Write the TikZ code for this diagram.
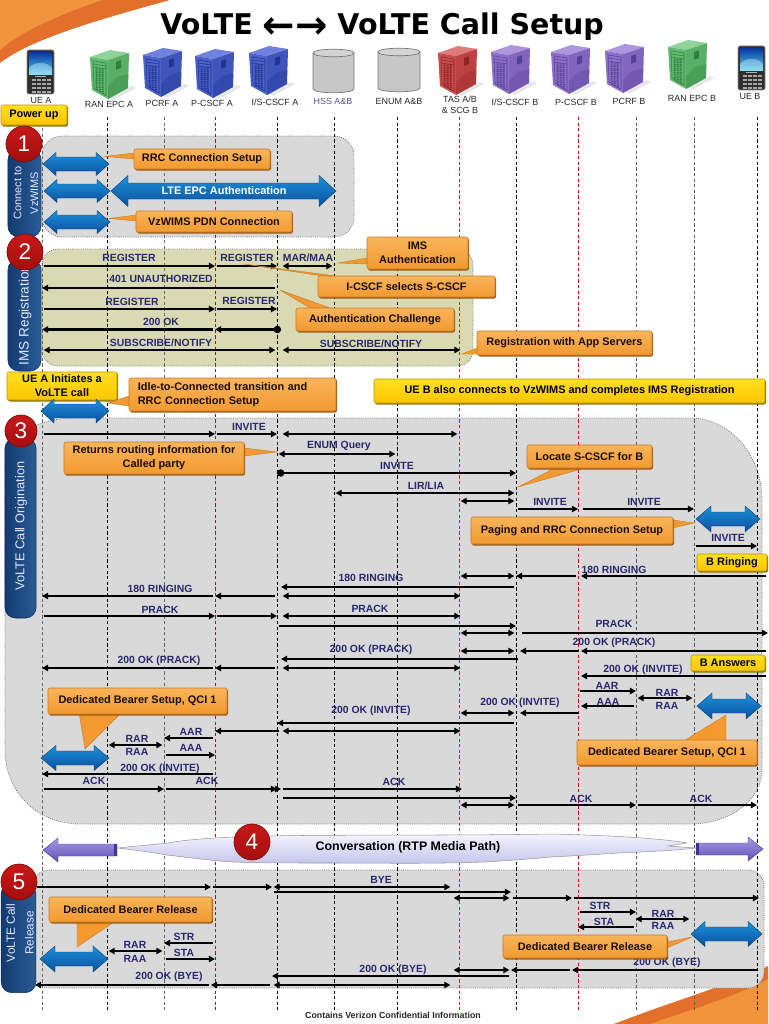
\documentclass[tikz,border=0pt]{standalone}
\usepackage{fontspec}
\setmainfont{Liberation Sans}
\newfontfamily\ttlfont{DejaVu Sans}
\usetikzlibrary{arrows.meta,calc}
\definecolor{dkorange}{HTML}{E2702C}
\definecolor{ltorange}{HTML}{F1953C}
\definecolor{msgblue}{HTML}{27276F}
\definecolor{panelgray}{HTML}{D9D9D9}
\definecolor{panelolive}{HTML}{D9DAB3}
\definecolor{oedge}{HTML}{C77B25}
\definecolor{otop}{HTML}{F9B45A}
\definecolor{obot}{HTML}{F29A30}
\definecolor{oshadow}{HTML}{9A5A16}
\definecolor{yedge}{HTML}{B89400}
\definecolor{ytop}{HTML}{FFDF20}
\definecolor{ybot}{HTML}{FDC500}
\definecolor{yshadow}{HTML}{8F7400}
\definecolor{pillD}{HTML}{123B70}
\definecolor{pillL}{HTML}{2A5C96}
\definecolor{pillE}{HTML}{0E2C54}
\definecolor{redT}{HTML}{C81818}
\definecolor{redB}{HTML}{A50E0E}
\definecolor{redE}{HTML}{7A0A0A}
\definecolor{barT}{HTML}{1C92DA}
\definecolor{barB}{HTML}{0B4F9E}
\definecolor{barE}{HTML}{0A4078}
\definecolor{parT}{HTML}{A89AE8}
\definecolor{parB}{HTML}{5E50B4}
\definecolor{parE}{HTML}{4A4098}
\definecolor{parD}{HTML}{3E3490}
\definecolor{cldT}{HTML}{F4F4FF}
\definecolor{cldB}{HTML}{C4C4EC}
\definecolor{scrT}{HTML}{0B3CA0}
\definecolor{scrB}{HTML}{4FD4F2}
\definecolor{gt}{HTML}{8FD39A}\definecolor{gl}{HTML}{62B96F}\definecolor{gr}{HTML}{57B066}\definecolor{gd}{HTML}{2F7F40}
\definecolor{bt}{HTML}{6F83DE}\definecolor{bl}{HTML}{4A61C6}\definecolor{br}{HTML}{3F55BC}\definecolor{bd}{HTML}{223590}
\definecolor{rt}{HTML}{DE7A7A}\definecolor{rl}{HTML}{C84C4C}\definecolor{rr}{HTML}{BE4242}\definecolor{rd}{HTML}{8C2626}
\definecolor{pt}{HTML}{AE96DE}\definecolor{pl}{HTML}{8D70C6}\definecolor{pr}{HTML}{8266BE}\definecolor{pd}{HTML}{55409A}
\newcounter{lblc}
\tikzset{
  m/.style={line width=1.05pt,shorten <=1.2pt,-{Stealth[length=4.6pt,width=4.8pt,inset=0pt]}},
  dbl/.style={{Stealth[length=4.6pt,width=4.8pt,inset=0pt]}-{Stealth[length=4.6pt,width=4.8pt,inset=0pt]},shorten >=1.2pt},
  tk/.style={line width=1.7pt},
  dot/.style={{Circle[length=5.5pt]}-{Stealth[length=4.6pt,width=4.8pt,inset=0pt]}},
  ll/.style={line width=.75pt,dash pattern=on 2.4pt off 1.8pt},
  panel/.style={fill=#1,draw=black!55,line width=.6pt,densely dotted},
  lbl/.style={text=msgblue,font=\fontsize{7.8}{8}\selectfont\bfseries,inner sep=0pt},
  nm/.style={text=black!85,font=\fontsize{6.7}{8}\selectfont,inner sep=0pt,align=center},
  ocall/.style={rounded corners=1.5pt,draw=oedge,line width=.4pt,top color=otop,bottom color=obot,
    inner sep=0pt,align=center,text=black!90!orange,font=\fontsize{8.2}{10.4}\selectfont\bfseries},
  ycall/.style={rounded corners=1.5pt,draw=yedge,line width=.4pt,top color=ytop,bottom color=ybot,
    inner sep=0pt,align=center,text=black,font=\fontsize{8.2}{10.4}\selectfont\bfseries},
  ptr/.style={fill=obot,draw=oedge,line width=.3pt},
  pill/.style={rounded corners=8pt,draw=pillE,line width=.4pt,left color=pillD,right color=pillL,inner sep=0pt},
  pilltxt/.style={rotate=90,text=white!90!blue,inner sep=0pt,align=center},
  redc/.style={circle,inner sep=0pt,draw=redE,line width=.5pt,top color=redT,bottom color=redB,text=white,font=\fontsize{17}{17}\selectfont},
  barrow/.style={top color=barT,bottom color=barB,draw=barE,line width=.3pt},
  parrow/.style={top color=parT,bottom color=parB,draw=parE,line width=.3pt},
}
\newcommand{\msg}[4][]{\draw[m,#1] (#2 |- 0,#4) -- (#3 |- 0,#4);}
\newcommand{\mlab}[3]{\stepcounter{lblc}\node[lbl] (lab\arabic{lblc}) at (#1,#2) {#3};}
\newcommand{\ocallbox}[7][]{%
  \fill[oshadow,rounded corners=1.5pt] ({#3+1},{#4+1}) rectangle ({#5+1},{#6+1.5});
  \node[ocall,minimum width={(#5-#3)*0.75pt},minimum height={(#6-#4)*0.75pt},#1] (#2) at ({(#3+#5)/2},{(#4+#6)/2}) {#7};}
\newcommand{\ycallbox}[7][]{%
  \fill[yshadow,rounded corners=1.5pt] ({#3+1},{#4+1}) rectangle ({#5+1},{#6+1.5});
  \node[ycall,minimum width={(#5-#3)*0.75pt},minimum height={(#6-#4)*0.75pt},#1] (#2) at ({(#3+#5)/2},{(#4+#6)/2}) {#7};}
% blue double arrow: x1 x2 y halfhead halfshaft headlen
\newcommand{\bigarrow}[6]{%
  \draw[barrow] (#1,#3) -- ({#1+#6},{#3-#4}) -- ({#1+#6},{#3-#5}) -- ({#2-#6},{#3-#5}) -- ({#2-#6},{#3-#4}) -- (#2,#3)
   -- ({#2-#6},{#3+#4}) -- ({#2-#6},{#3+#5}) -- ({#1+#6},{#3+#5}) -- ({#1+#6},{#3+#4}) -- cycle;}
\newcommand{\server}[6]{% x y top left right dark
  \begin{scope}[shift={(#1,#2)}]
    \fill[black!18,opacity=.5] (20,47) -- (42,36) -- (46,38) -- (24,50) -- cycle;
    \fill[#3] (0,7) -- (20,0) -- (39,3) -- (18,10) -- cycle;
    \fill[#4] (0,7) -- (18,10) -- (18,49) -- (2,40) -- cycle;
    \fill[#5] (18,10) -- (39,3) -- (38,38) -- (18,49) -- cycle;
    \fill[#6,opacity=.35] (18,49) -- (18,36) -- (27,27) -- (38.4,24) -- (38,38) -- cycle;
    \fill[#6] (26,12) -- (31,10.3) -- (31,18) -- (26,19.7) -- cycle;
    \draw[#6,line width=.4pt] (3,11) -- (16,13) -- (16,45.5) -- (4,38) -- cycle;
    \draw[#6,line width=.4pt] (3,14) -- (16,16) (3,17) -- (16,19);
    \foreach \q in {6.5,9.5,12.5} {\draw[#6,line width=1.5pt,dash pattern=on .9pt off .5pt] (\q,18.5) -- ({\q+.3},{37+\q*.6});}
  \end{scope}}
\newcommand{\phone}[2]{%
  \begin{scope}[shift={(#1,#2)}]
    \fill[black!82,rounded corners=1.5pt] (0,0) rectangle (27,44);
    \draw[black!45,line width=.4pt,rounded corners=1.5pt] (0,0) rectangle (27,44);
    \shade[top color=scrT,bottom color=scrB] (2,3) rectangle (25,25);
    \fill[white,opacity=.35] (2,18) .. controls (8,11) and (19,11) .. (25,18) -- (25,25) -- (2,25) -- cycle;
    \foreach \r in {29,33,37,41} {\foreach \c in {5,10,15,20} {\fill[black!35] (\c,\r) rectangle ({\c+3.5},{\r+1.6});}}
    \fill[black!30] (8,26) rectangle (19,27.3);
  \end{scope}}
\newcommand{\cyl}[4]{% x1 x2 ytop ybottom
  \draw[fill=black!22,draw=black!55,line width=.5pt] (#1,{#3+4}) -- (#1,{#4-4}) .. controls (#1,{#4+1}) and (#2,{#4+1}) .. (#2,{#4-4}) -- (#2,{#3+4});
  \draw[fill=black!17,draw=black!55,line width=.5pt] (#1,{#3+4}) .. controls (#1,{#3-1}) and (#2,{#3-1}) .. (#2,{#3+4}) .. controls (#2,{#3+9}) and (#1,{#3+9}) .. (#1,{#3+4}) -- cycle;}
\begin{document}
\begin{tikzpicture}[x=.75pt,y=-.75pt]
\useasboundingbox (0,0) rectangle (768,1024);
\fill[white] (0,0) rectangle (768,1024);
% swooshes
\fill[dkorange] (0,0) -- (170,0) .. controls (90,22) and (30,40) .. (0,63) -- cycle;
\fill[ltorange] (0,0) -- (103,0) .. controls (60,14) and (20,32) .. (0,50) -- cycle;
\fill[dkorange] (768,1024) -- (614,1024) .. controls (670,1002) and (730,985) .. (768,966) -- cycle;
\fill[ltorange] (768,1024) -- (650,1024) .. controls (690,1010) and (740,995) .. (768,979) -- cycle;
% title
\node[inner sep=0pt,anchor=base west,font=\ttlfont\bfseries\fontsize{21.4}{24}\selectfont] (title) at (160,35) {VoLTE {\fontsize{29}{24}\selectfont\raisebox{-2.3pt}{←→}} VoLTE Call Setup};
% panels
\path[panel=panelgray,rounded corners=15pt] (42,136) rectangle (354,237);
\path[panel=panelolive,rounded corners=12pt] (42,249) rectangle (473,366);
\path[panel=panelgray] (5,460) .. controls (5,435) and (40,418) .. (75,418) -- (690,418) .. controls (730,418) and (762,455) .. (762,500) -- (762,770) .. controls (762,800) and (730,824) .. (690,824) -- (80,824) .. controls (35,824) and (5,790) .. (5,750) -- cycle;
\path[panel=panelgray,rounded corners=12pt] (33,870) -- (764,870) -- (764,988) -- (33,988) -- cycle;
% lifelines
\coordinate (ua) at (42,117);  \coordinate (ra) at (107,117); \coordinate (pc) at (164,117);
\coordinate (pa) at (215,117); \coordinate (ia) at (277,117); \coordinate (hs) at (334,117);
\coordinate (en) at (397,117); \coordinate (ta) at (459,117); \coordinate (ib) at (516,117);
\coordinate (pb) at (578,117); \coordinate (pr) at (636,117); \coordinate (rb) at (694,117);
\coordinate (ub) at (757,117);
\coordinate (iar) at (281,117); \coordinate (ibr) at (520,117); \coordinate (pbr) at (581,117);
\coordinate (edge) at (768,117); \coordinate (lft) at (35,117); \coordinate (tar) at (462,117);
\coordinate (pa5) at (211,117); \coordinate (ia5) at (272,117); \coordinate (ta5) at (452,117);
\coordinate (ib5) at (511,117); \coordinate (pb5) at (572,117); \coordinate (ub5) at (759,117);
\coordinate (rb5) at (691,117); \coordinate (pr5) at (634,117);
\foreach \n/\c in {ua/black!60,ra/black,pc/black!60,pa/red!75!black,ia/black,hs/black,en/black,ta/green!55!black,ib/black,pb/red!80!black,pr/black!65,rb/black!65,ub/black}
  {\draw[ll,\c] (\n) -- (\n |- 0,1010);}
% icons
\phone{27}{50} \phone{738}{46}
\server{90}{50}{gt}{gl}{gr}{gd}
\server{143}{48}{bt}{bl}{br}{bd}
\server{195}{49}{bt}{bl}{br}{bd}
\server{249}{46}{bt}{bl}{br}{bd}
\server{438}{46}{rt}{rl}{rr}{rd}
\server{491}{45}{pt}{pl}{pr}{pd}
\server{551}{45}{pt}{pl}{pr}{pd}
\server{605}{44}{pt}{pl}{pr}{pd}
\server{668}{40}{gt}{gl}{gr}{gd}
\cyl{313}{354}{49}{93} \cyl{378}{420}{48}{92}
\node[nm] (nua) at (41,100) {UE A};
\node[nm] (nra) at (109,104) {RAN EPC A};
\node[nm] (npc) at (162,103) {PCRF A};
\node[nm] (npa) at (212,103) {P-CSCF A};
\node[nm] (nia) at (275,102) {I/S-CSCF A};
\node[nm,text=msgblue!80] (nhs) at (333,101) {HSS A\&B};
\node[nm] (nen) at (399,101) {ENUM A\&B};
\node[nm] (nta) at (460,104.5) {TAS A/B\\\& SCG B};
\node[nm] (nib) at (515,102) {I/S-CSCF B};
\node[nm] (npb) at (576,102) {P-CSCF B};
\node[nm] (npr) at (629,101) {PCRF B};
\node[nm] (nrb) at (692,98) {RAN EPC B};
\node[nm] (nub) at (750,96) {UE B};
\ycallbox{pwr}{1}{105}{67}{125}{Power up}
% section 1
\bigarrow{43}{109}{164}{11.5}{7}{13}
\bigarrow{44}{110}{191}{11.5}{7}{13}
\bigarrow{44}{110}{222}{11.5}{7}{13}
\bigarrow{111}{336}{191}{15.5}{8}{17}
\node[inner sep=0pt,text=white,font=\fontsize{8.2}{10}\selectfont\bfseries] (lte) at (224,191) {LTE EPC Authentication};
\draw[ptr] (134,153) -- (105,156.5) -- (134,159) -- cycle;
\ocallbox{c1}{134}{149}{270}{169}{RRC Connection Setup}
\draw[ptr] (136,215) -- (109,218.5) -- (136,221) -- cycle;
\ocallbox{c2}{136}{211}{292}{232}{VzWIMS PDN Connection}
% section 2
\msg{ua}{pa}{266} \msg{pa}{ia}{266} \msg[dbl]{iar}{hs}{266}
\msg{ia}{ua}{288}
\msg{ua}{pa}{309} \msg{pa}{ia}{309}
\msg[dot,tk,shorten <=0pt]{iar}{pa}{329.5} \msg[tk]{pa}{ua}{329.5}
\msg[dbl]{ua}{ia}{350} \msg[dbl]{iar}{tar}{350}
\mlab{129}{258}{REGISTER} \mlab{247}{258}{REGISTER} \mlab{308}{258}{MAR/MAA}
\mlab{161}{279}{401 UNAUTHORIZED} \mlab{132}{302}{REGISTER} \mlab{249}{301}{REGISTER}
\mlab{161}{322}{200 OK} \mlab{161}{343}{SUBSCRIBE/NOTIFY} \mlab{371}{344}{SUBSCRIBE/NOTIFY}
\draw[ptr] (367,258) -- (338,263) -- (367,264) -- cycle;
\ocallbox{c3}{367}{237}{468}{269}{IMS\\Authentication}
\draw[ptr] (322,276) -- (244,264) -- (336,276) -- cycle;
\ocallbox{c4}{318}{276}{495}{297}{I-CSCF selects S-CSCF}
\draw[ptr] (310,308) -- (280,290) -- (330,308) -- cycle;
\ocallbox{c5}{296}{308}{454}{331}{Authentication Challenge}
\draw[ptr] (480,347) -- (462,354) -- (480,354) -- cycle;
\ocallbox{c6}{477}{331}{652}{355}{Registration with App Servers}
\ycallbox{y1}{7}{372}{117}{400}{UE A Initiates a\\VoLTE call}
\ycallbox{y2}{374}{379}{765}{403}{UE B also connects to VzWIMS and completes IMS Registration}
\bigarrow{41}{109}{411}{12}{7}{13}
\draw[ptr] (129,396) -- (108,403) -- (129,406) -- cycle;
\ocallbox[align=left,text width=155pt]{c7}{129}{378}{336}{411}{\hspace*{6.5pt}Idle-to-Connected transition and\\\hspace*{6.5pt}RRC Connection Setup}
% section 3
\msg{ua}{pa}{434} \msg{pa}{ia}{434} \msg[dbl]{iar}{ta}{434}
\msg[dbl]{ia}{en}{454}
\msg[dot,tk,shorten <=0pt]{ia}{ib}{473}
\msg[dbl,tk]{hs}{ib}{493}
\msg[dbl]{ta}{ib}{501}
\msg{ib}{pb}{509} \msg{pbr}{rb}{509}
\msg[tk]{rb}{ub}{546}
\msg[dbl]{ta}{ib}{576} \msg{pb}{ib}{576} \msg[tk]{edge}{pbr}{576}
\msg{ib}{iar}{587}
\msg[tk]{pa}{ua}{596} \msg[tk]{ia}{pa}{596} \msg[dbl,tk]{iar}{tar}{596}
\msg{ua}{pa}{616} \msg{pa}{ia}{616} \msg[dbl]{iar}{tar}{616}
\msg{ia}{ib}{626}
\msg[dbl]{ta}{ib}{633} \msg[tk]{ibr}{edge}{633}
\msg[dbl]{ta}{ib}{651} \msg{pbr}{ibr}{651} \msg{edge}{pbr}{651}
\msg{ibr}{iar}{659}
\msg{pa}{ua}{668} \msg{ia}{pa}{668} \msg[dbl]{iar}{tar}{668}
\msg[tk]{edge}{pbr}{676}
\msg[tk]{pb}{pr}{691}
\msg[dbl]{pr}{rb}{698}
\msg{pr}{pbr}{706}
\msg[dbl]{ta}{ib}{713} \msg{pbr}{ibr}{713}
\msg{ib}{ia}{723}
\msg[tk]{iar}{pa}{731} \msg[dbl]{iar}{tar}{731}
\msg{pa}{pc}{738}
\msg[dbl]{ra}{pc}{745}
\msg{pc}{pa}{755}
\msg{pa}{ua}{774}
\msg{ua}{pc}{789} \msg{pc}{ia}{789} \msg{ia}{iar}{789} \msg{iar}{tar}{789}
\msg{iar}{ib}{798}
\msg[dbl]{ta}{ib}{805} \msg{ib}{pr}{805} \msg{pr}{ub}{805}
\mlab{249}{427}{INVITE} \mlab{339}{446}{ENUM Query} \mlab{397}{466}{INVITE} \mlab{426}{486}{LIR/LIA}
\mlab{550}{502}{INVITE} \mlab{644}{502}{INVITE} \mlab{728}{538}{INVITE}
\mlab{614}{570}{180 RINGING} \mlab{371}{578}{180 RINGING} \mlab{160}{589}{180 RINGING}
\mlab{160}{610}{PRACK} \mlab{370}{609}{PRACK} \mlab{614}{624}{PRACK}
\mlab{614}{643}{200 OK (PRACK)} \mlab{371}{650}{200 OK (PRACK)} \mlab{159}{661}{200 OK (PRACK)}
\mlab{643}{670}{200 OK (INVITE)} \mlab{607}{686}{AAR} \mlab{608}{702}{AAA}
\mlab{667}{693}{RAR} \mlab{667}{706}{RAA} \mlab{520}{703}{200 OK (INVITE)} \mlab{371}{711}{200 OK (INVITE)}
\mlab{191}{732}{AAR} \mlab{137}{739}{RAR} \mlab{137}{752}{RAA} \mlab{191}{748}{AAA}
\mlab{160}{769}{200 OK (INVITE)} \mlab{94}{781}{ACK} \mlab{207}{781}{ACK} \mlab{394}{782}{ACK}
\mlab{581}{799}{ACK} \mlab{701}{799}{ACK}
\bigarrow{696}{760}{519}{13}{7}{15}
\bigarrow{41}{109}{758}{12.5}{7}{15}
\bigarrow{697}{761}{706}{13}{7}{15}
\draw[ptr] (244,448) -- (277,452) -- (244,456) -- cycle;
\ocallbox{c8}{64}{442}{244}{474}{Returns routing information for\\Called party}
\draw[ptr] (555,468) -- (518,487) -- (585,468) -- cycle;
\ocallbox{c9}{527}{445}{652}{468}{Locate S-CSCF for B}
\draw[ptr] (673,520) -- (694,523) -- (673,528) -- cycle;
\ocallbox{c10}{471}{517}{673}{544}{Paging and RRC Connection Setup}
\ycallbox{y3}{697}{554}{767}{571}{B Ringing}
\ycallbox{y4}{691}{655}{765}{671}{B Answers}
\draw[ptr] (79,712) -- (85,749) -- (122,712) -- cycle;
\ocallbox{c11}{48}{688}{227}{714}{Dedicated Bearer Setup, QCI 1}
\draw[ptr] (682,742) -- (726,715) -- (726,742) -- cycle;
\ocallbox{c12}{577}{740}{757}{765}{Dedicated Bearer Setup, QCI 1}
% conversation
\draw[parrow] (43,850) -- (58,838) -- (58,844) -- (117,844) -- (117,856) -- (58,856) -- (58,862) -- cycle;
\fill[parD] (114,844) rectangle (117,856);
\draw[parrow] (763,849) -- (748,837) -- (748,843) -- (696,843) -- (696,855) -- (748,855) -- (748,861) -- cycle;
\fill[parD] (696,843) rectangle (699,855);
\draw[top color=cldT,bottom color=cldB,draw=black!40,line width=.4pt] (118,848)
  .. controls (135,846) and (150,845) .. (168,843) .. controls (190,839) and (215,838) .. (233,837)
  .. controls (300,834) and (450,836) .. (550,834) .. controls (600,835) and (660,838) .. (687,843)
  -- (668,846) -- (696,848) .. controls (670,851) and (640,852) .. (617,853)
  .. controls (590,855) and (570,856) .. (550,857) .. controls (520,860) and (500,861) .. (484,862)
  .. controls (430,864) and (380,863) .. (333,863) .. controls (290,863) and (260,863) .. (233,862)
  .. controls (205,860) and (185,857) .. (167,855) .. controls (150,852) and (135,850) .. (118,848) -- cycle;
\node[inner sep=0pt,font=\fontsize{9.3}{10}\selectfont\bfseries] (conv) at (408,847) {Conversation (RTP Media Path)};
% section 5
\msg{lft}{pa5}{887} \msg{pa5}{ia5}{887} \msg[dbl]{ia5}{ta5}{887}
\msg{ia5}{ib5}{892}
\msg[dbl]{ta5}{ib5}{898} \msg{ib5}{pb5}{898} \msg{pb5}{ub5}{898}
\msg{pb}{pr}{912} \msg[dbl]{pr5}{rb5}{919} \msg[tk]{pr}{pb}{927}
\msg{pa}{pc}{943} \msg[dbl]{ra}{pc}{951} \msg[tk]{pc}{pa}{959}
\msg[dbl]{ta5}{ib5}{970} \msg{pb5}{ib5}{970} \msg{ub5}{pb5}{970}
\msg[tk]{ib5}{ia5}{976}
\msg{pa5}{lft}{985} \msg{ia5}{pa5}{985} \msg[dbl]{ia5}{ta5}{985}
\mlab{381}{880}{BYE} \mlab{600}{906}{STR} \mlab{604}{922}{STA}
\mlab{663}{914}{RAR} \mlab{663}{926}{RAA}
\mlab{184}{937}{STR} \mlab{184}{953}{STA} \mlab{135}{945}{RAR} \mlab{135}{959}{RAA}
\mlab{667}{963}{200 OK (BYE)} \mlab{393}{970}{200 OK (BYE)} \mlab{169}{977}{200 OK (BYE)}
\bigarrow{40}{108}{959}{13}{7}{15}
\bigarrow{691}{762}{934}{12.5}{7}{14}
\draw[ptr] (77,920) -- (77,947) -- (117,920) -- cycle;
\ocallbox{c13}{49}{897}{212}{922}{Dedicated Bearer Release}
\draw[ptr] (667,942) -- (692,937) -- (667,948) -- cycle;
\ocallbox{c14}{503}{935}{667}{958}{Dedicated Bearer Release}
% pills
\node[pill,minimum width=24.8pt,minimum height=66pt] (p1) at (24.5,193) {};
\node[pilltxt,font=\fontsize{8.2}{12.5}\selectfont] (t1) at (26,193) {Connect to\\VzWIMS};
\node[pill,minimum width=24.8pt,minimum height=84pt] (p2) at (24.5,315) {};
\node[pilltxt,font=\fontsize{10.2}{11}\selectfont] (t2) at (25,315) {IMS Registration};
\node[pill,minimum width=23.5pt,minimum height=135pt] (p3) at (20.5,528) {};
\node[pilltxt,font=\fontsize{9.6}{11}\selectfont] (t3) at (21,526) {VoLTE Call Origination};
\node[pill,minimum width=26pt,minimum height=82pt] (p5) at (18.5,938) {};
\node[pilltxt,font=\fontsize{8.9}{14}\selectfont] (t5) at (20,933) {VoLTE Call\\Release};
\node[redc,minimum size=27pt] (r1) at (24,144) {1};
\node[redc,minimum size=27pt] (r2) at (25,252) {2};
\node[redc,minimum size=24pt] (r3) at (21,431) {3};
\node[redc,minimum size=27pt] (r4) at (252,842) {4};
\node[redc,minimum size=27pt] (r5) at (19,882) {5};
\node[inner sep=0pt,text=black!85,font=\fontsize{6.6}{7}\selectfont\bfseries] (foot) at (393,1015) {Contains Verizon Confidential Information};
\end{tikzpicture}
\end{document}
